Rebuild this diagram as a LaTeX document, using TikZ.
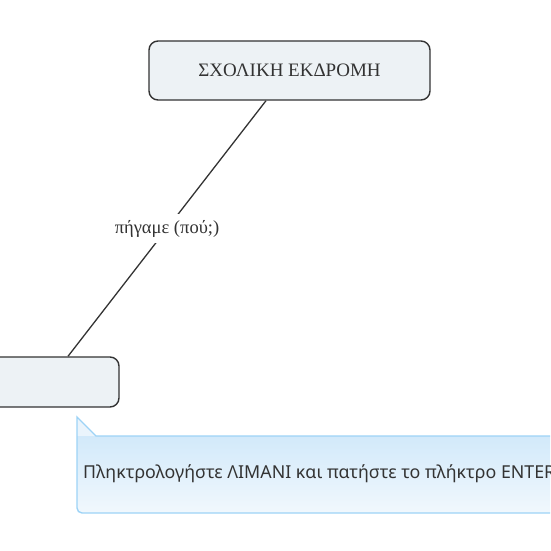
\documentclass[tikz,border=0pt]{standalone}
\usepackage{fontspec}
\setmainfont{Liberation Serif}
\newfontfamily\uisans{Noto Sans}
\definecolor{boxfill}{HTML}{EDF2F5}
\definecolor{boxline}{HTML}{333333}
\definecolor{tipline}{HTML}{9DD3F6}
\definecolor{tiptop}{HTML}{D2E9FA}
\definecolor{tipbot}{HTML}{F1F8FD}
\definecolor{tiptri}{HTML}{EAF4FC}
\tikzset{
  concept/.style={draw=boxline, line width=1.4pt, fill=boxfill, rounded corners=9pt, inner sep=0pt},
  link/.style={draw=boxline, line width=1.3pt},
  linklabel/.style={fill=white, inner xsep=3pt, inner ysep=6pt, font=\fontsize{18.5}{20}\selectfont, text=boxline},
}
\begin{document}
\begin{tikzpicture}[x=1pt,y=-1pt]
\useasboundingbox (0,0) rectangle (550,551);
\clip (0,0) rectangle (550,551);
\node[concept, minimum width=281pt, minimum height=59pt, font=\fontsize{19}{21}\selectfont, text=boxline] (top) at (289.5,70.5) {ΣΧΟΛΙΚΗ ΕΚΔΡΟΜΗ};
\node[concept, minimum width=139pt, minimum height=50pt] (left) at (49.5,382) {};
\draw[link] ([xshift=-23.5pt]top.south) -- node[linklabel] (lbl) {πήγαμε (πού;)} ([xshift=18.5pt]left.north);
% callout
\fill[tiptri] (77,417) -- (96,436) -- (77,436) -- cycle;
\shade[top color=tiptop, bottom color=tipbot] (77,436) -- (560,436) -- (560,513) -- (82,513) arc[start angle=90, end angle=180, radius=5] -- cycle;
\draw[tipline, line width=1.4pt] (77,417) -- (96,436) -- (560,436) -- (560,513) -- (82,513) arc[start angle=90, end angle=180, radius=5] -- cycle;
\node[anchor=west, inner sep=0pt, font=\uisans\fontsize{17.8}{20}\selectfont, text=boxline] (tip) at (83,474) {Πληκτρολογήστε ΛΙΜΑΝΙ και πατήστε το πλήκτρο ENTER};
\end{tikzpicture}
\end{document}
